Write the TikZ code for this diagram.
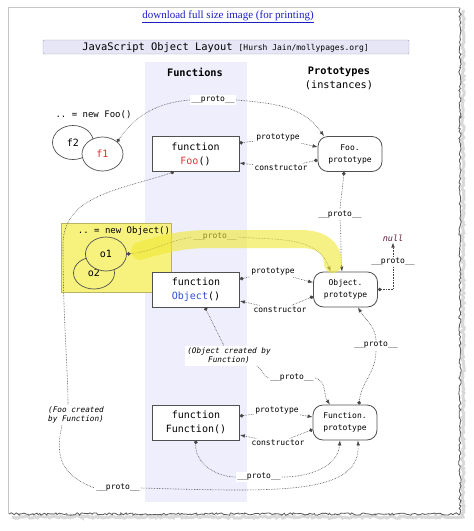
\documentclass[tikz,border=0pt]{standalone}
\usepackage{fontspec}
\setmainfont{Liberation Serif}
\setmonofont{DejaVu Sans Mono}
\usetikzlibrary{arrows.meta,decorations.pathmorphing,shapes.geometric}
\definecolor{band}{RGB}{238,238,252}
\definecolor{titlebg}{RGB}{230,230,246}
\definecolor{titlebd}{RGB}{165,165,195}
\definecolor{hly}{RGB}{246,242,125}
\definecolor{hlbd}{RGB}{185,180,100}
\definecolor{hlstr}{RGB}{240,232,50}
\definecolor{conncol}{RGB}{70,70,70}
\definecolor{boxbd}{RGB}{80,80,80}
\definecolor{fred}{RGB}{222,50,50}
\definecolor{oblue}{RGB}{50,80,210}
\definecolor{nullc}{RGB}{100,30,60}
\definecolor{linkc}{RGB}{30,30,200}
\tikzset{
  fnbox/.style={draw=boxbd, line width=0.8pt, fill=white, minimum width=87pt, minimum height=35pt, align=center, inner sep=0pt, font=\fontsize{10}{14}\selectfont\ttfamily},
  protobox/.style={draw=boxbd, line width=0.8pt, fill=white, rounded corners=10pt, minimum width=64pt, minimum height=35pt, align=center, inner sep=0pt, font=\fontsize{8}{12}\selectfont\ttfamily},
  obj/.style={ellipse, draw=boxbd, line width=0.7pt, minimum width=41pt, minimum height=34pt, inner sep=0pt, font=\fontsize{10}{12}\selectfont\ttfamily},
  lbl/.style={fill=white, inner sep=1.5pt, font=\fontsize{8}{9}\selectfont\ttfamily},
  note/.style={fill=white, inner sep=2pt, align=center, font=\fontsize{7.7}{9}\selectfont\ttfamily\itshape},
  plain/.style={inner sep=0pt, font=\fontsize{9}{10}\selectfont\ttfamily},
  conn/.style={draw=conncol, densely dotted, line width=0.6pt},
  dotS/.style={{Circle[length=3.6pt]}-},
  arrE/.style={-{Latex[length=5pt,width=3.6pt]}},
  torn/.style={decorate, decoration={random steps, segment length=2pt, amplitude=1.2pt}},
  hlstroke/.style={draw=hlstr, line width=18pt, line cap=round, opacity=0.6}
}
\begin{document}
\begin{tikzpicture}[x=1pt,y=-1pt]
\useasboundingbox (0,0) rectangle (474,531);
\fill[white] (0,0) rectangle (474,531);
% page edges
\pgfmathsetseed{7}
\draw[gray!30, line width=3pt, torn] (463,10) -- (463,517) -- (12,517);
\draw[gray!70!black, line width=0.8pt, torn] (460,8) -- (460,514) -- (9,514);
\draw[gray!45, line width=0.6pt] (8,514) -- (8,7) -- (460,7);
% link
\node[font=\fontsize{11}{12}\selectfont, text=linkc] (link) at (228,17) {\underline{download full size image (for printing)}};
% title bar
\node[draw=titlebd, fill=titlebg, minimum width=366pt, minimum height=14pt, inner sep=0pt, rounded corners=1pt] (title) at (226,47) {};
\node[inner sep=0pt, font=\ttfamily] (ttl) at (225.5,47.5) {{\fontsize{10.4}{12}\selectfont JavaScript Object Layout} {\fontsize{8}{10}\selectfont [Hursh Jain/mollypages.org]}};
% functions band
\fill[band] (145,62) rectangle (247,502);
\node[font=\fontsize{10.3}{12}\selectfont\ttfamily\bfseries] (hfun) at (195,72) {Functions};
\node[font=\fontsize{10.3}{12}\selectfont\ttfamily\bfseries] (hproto) at (339,72) {Prototypes};
\node[font=\fontsize{10.3}{12}\selectfont\ttfamily] (hinst) at (339,85.5) {(instances)};
% yellow object box
\node[draw=hlbd, fill=hly, line width=0.5pt, minimum width=110pt, minimum height=69pt, inner sep=0pt] (ybox) at (116,257.5) {};
% objects
\node[plain] (newfoo) at (93.5,115) {.. = new Foo()};
\node[obj, fill=white] (f2) at (73,142.5) {f2};
\node[obj, fill=white] (f1) at (102.5,154) {\textcolor{fred}{f1}};
\node[plain] (newobj) at (124,231) {.. = new Object()};
\node[obj, fill=hly, minimum height=32pt] (o2) at (94,273) {o2};
\node[obj, fill=hly] (o1) at (106,254) {o1};
% function boxes
\node[fnbox] (foo) at (195.5,154) {function\\\textcolor{fred}{Foo}()};
\node[fnbox] (objbox) at (196,289.5) {function\\\textcolor{oblue}{Object}()};
\node[fnbox] (fnbox) at (196,422.5) {function\\Function()};
% prototype boxes
\node[protobox] (fooproto) at (350,154) {Foo.\\prototype};
\node[protobox] (objproto) at (345.5,289.5) {Object.\\prototype};
\node[protobox] (fnproto) at (345,422.5) {Function.\\prototype};
\node[inner sep=1pt, font=\fontsize{8.5}{10}\selectfont\ttfamily\itshape, text=nullc] (null) at (393,238) {null};
% labels
\node[lbl] (p1) at (213,100) {\_\_proto\_\_};
\node[lbl] (pr1) at (278,138) {prototype};
\node[lbl] (co1) at (281,168) {constructor};
\node[lbl] (pp2) at (340,215) {\_\_proto\_\_};
\node[lbl, fill=none] (pp3) at (215,237) {\_\_proto\_\_};
\node[lbl] (pr2) at (273,272) {prototype};
\node[lbl] (co2) at (280,310) {constructor};
\node[lbl] (pp4) at (393,262) {\_\_proto\_\_};
\node[note] (oc) at (229,356) {(Object created by\\Function)};
\node[lbl] (pp5) at (292,378) {\_\_proto\_\_};
\node[lbl] (pp6) at (376,345) {\_\_proto\_\_};
\node[lbl] (pr3) at (277,411) {prototype};
\node[lbl] (co3) at (278,443) {constructor};
\node[lbl] (pp7) at (259,477) {\_\_proto\_\_};
\node[note, fill=none] (fc) at (76,415) {(Foo created\\by Function)};
\node[lbl] (pp8) at (118,488) {\_\_proto\_\_};
% connectors
\draw[conn,dotS] (f1.40) to[out=55,in=185] (p1.west);
\draw[conn,arrE] (p1.east) to[out=-5,in=125] ([xshift=-26pt]fooproto.north);
\draw[conn,dotS] ([yshift=11pt]foo.east) -- (pr1);
\draw[conn,arrE] (pr1) -- ([yshift=7pt]fooproto.west);
\draw[conn,dotS] ([yshift=-6pt]fooproto.west) -- (co1);
\draw[conn,arrE] (co1) -- ([yshift=-9pt]foo.east);
\draw[conn,dotS] ([xshift=-6pt]fooproto.south) to[out=-95,in=85] (pp2.north);
\draw[conn,arrE] (pp2.south) to[out=-85,in=95] ([xshift=-3.5pt]objproto.north);
\draw[conn,dotS] (o1.east) to[out=5,in=190] (pp3.west);
\draw[conn,arrE] (pp3.east) to[out=-5,in=110] ([xshift=-15pt]objproto.north);
\draw[conn,dotS] ([yshift=10.5pt]objbox.east) -- (pr2);
\draw[conn,arrE] (pr2) -- ([yshift=7pt]objproto.west);
\draw[conn,dotS] ([yshift=-7pt]objproto.west) -- (co2);
\draw[conn,arrE] (co2) -- ([yshift=-11.5pt]objbox.east);
\draw[conn,dotS] (objproto.east) -| (pp4.south);
\draw[conn,arrE] (pp4.north) -- (null.south);
\draw[conn,dotS] ([xshift=9pt]objbox.south) -- (oc);
\draw[conn] (oc) to[out=-20,in=170] (pp5.west);
\draw[conn,arrE] (pp5.east) to[out=-15,in=125] ([xshift=-15pt]fnproto.north);
\draw[conn,dotS] ([xshift=14pt]fnproto.north) to[out=85,in=-90] (pp6.south);
\draw[conn,arrE] (pp6.north) to[out=95,in=-60] ([xshift=12.5pt]objproto.south);
\draw[conn,dotS] ([yshift=6.5pt]fnbox.east) -- (pr3);
\draw[conn,arrE] (pr3) -- ([yshift=5.5pt]fnproto.west);
\draw[conn,dotS] ([yshift=-7pt]fnproto.west) -- (co3);
\draw[conn,arrE] (co3) -- ([yshift=-12.5pt]fnbox.east);
\draw[conn,dotS] (fnbox.south) to[out=-95,in=180] (pp7.west);
\draw[conn,arrE] (pp7.east) to[out=0,in=-95] ([xshift=-5pt]fnproto.south);
\draw[conn,dotS] ([xshift=-21.5pt]foo.south) .. controls (120,190) and (63,195) .. (63,245) .. controls (63,320) and (68,370) .. ([xshift=-8pt]fc.north);
\draw[conn] ([xshift=-14pt]fc.south) .. controls (55,455) and (60,475) .. (pp8.west);
\draw[conn,arrE] (pp8.east) .. controls (280,492) and (360,495) .. ([xshift=13pt]fnproto.south);
% highlight stroke
\draw[hlstroke] (140,251) .. controls (165,243) and (185,239) .. (210,239) -- (300,239) .. controls (322,239) and (333,248) .. (333,264);
\end{tikzpicture}
\end{document}
